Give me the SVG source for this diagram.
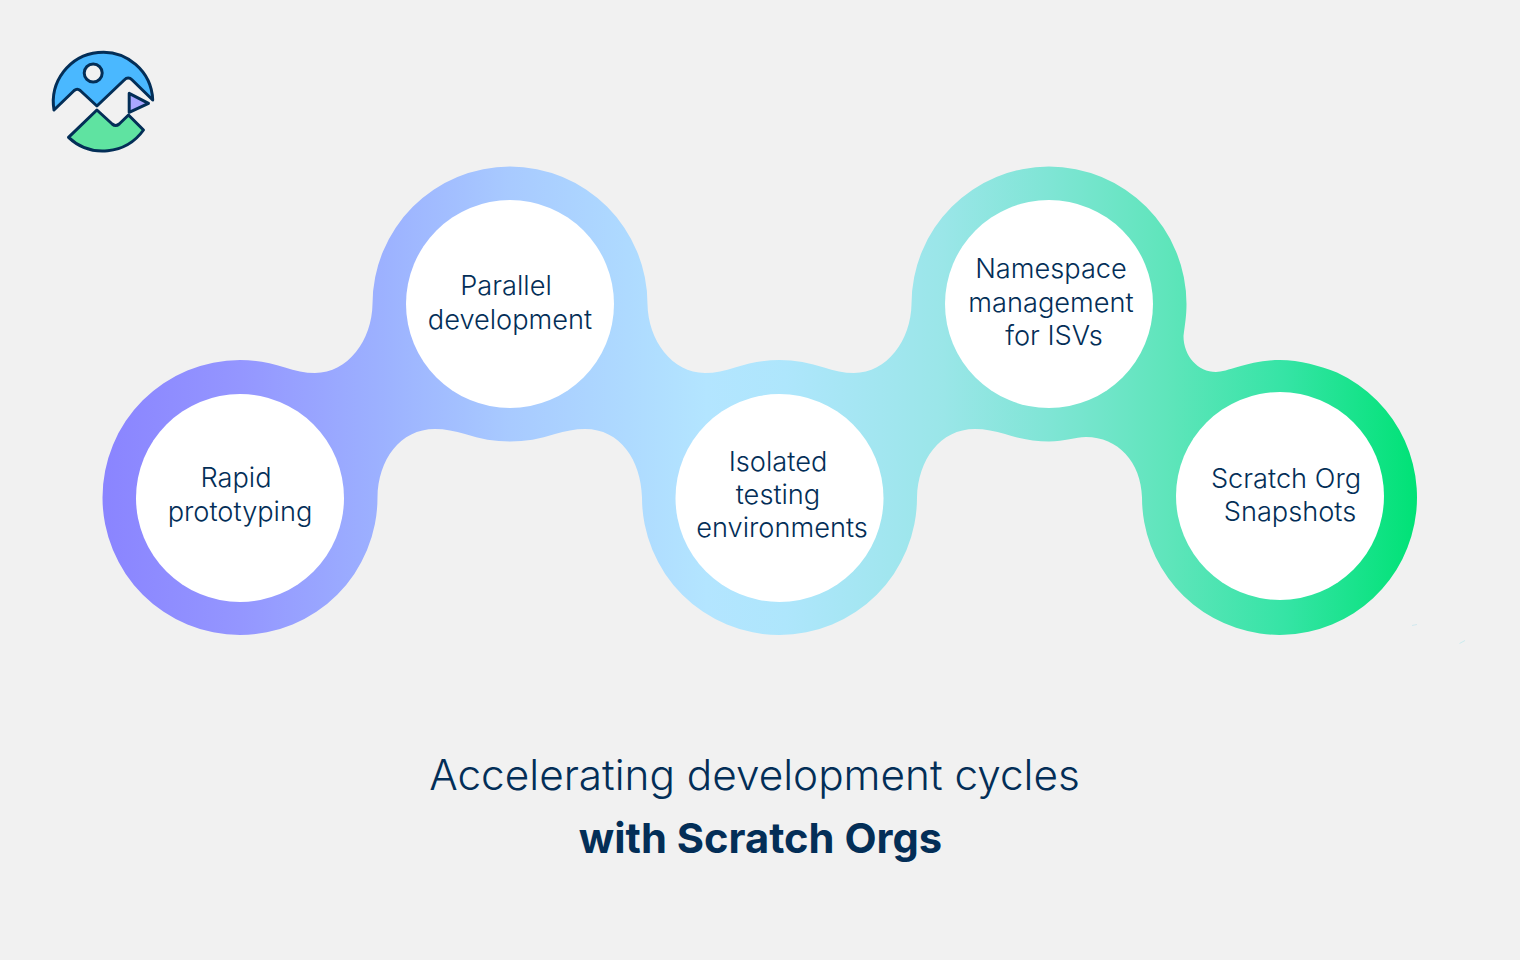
<svg xmlns="http://www.w3.org/2000/svg" width="1520" height="960" viewBox="0 0 1520 960">
<defs>
<linearGradient id="band" gradientUnits="userSpaceOnUse" x1="102" y1="0" x2="1417" y2="0">
<stop offset="0" stop-color="#8a84ff"/>
<stop offset="0.105" stop-color="#9496ff"/>
<stop offset="0.22" stop-color="#9db3ff"/>
<stop offset="0.31" stop-color="#a8caff"/>
<stop offset="0.40" stop-color="#aedaff"/>
<stop offset="0.46" stop-color="#b3e5ff"/>
<stop offset="0.52" stop-color="#aee6fc"/>
<stop offset="0.64" stop-color="#9ae6e8"/>
<stop offset="0.72" stop-color="#7fe5d5"/>
<stop offset="0.81" stop-color="#5fe5bb"/>
<stop offset="0.90" stop-color="#35e4a5"/>
<stop offset="1" stop-color="#00e276"/>
</linearGradient>
<style>
.t{font-family:"Inter","Liberation Sans",sans-serif;font-weight:300;font-size:27.2px;fill:#032e57;text-anchor:middle}
.h{font-family:"Inter","Liberation Sans",sans-serif;fill:#032e57;text-anchor:middle}
.c{fill:#fff}
.l{stroke:#032e57;stroke-width:3;stroke-linejoin:round}
</style>
</defs>
<rect width="1520" height="960" fill="#f1f1f1"/>
<g id="logo" transform="translate(0.200 0)">
<path class="l" fill="#4ab8ff" d="M53.800 110 A49.700 49.700 0 1 1 152.500 100 L132 80 Q128 76 124 80 L96.700 106 L80 90.500 Q77 88 74 90.500 Z"/>
<circle class="l" fill="#f1f1f1" cx="93" cy="73" r="9"/>
<path class="l" fill="#5fe3a1" d="M96.700 110 L112 124 Q115.500 127 119 124 L128.300 115 L143.300 130 A50 50 0 0 1 68.300 137.300 Z"/>
<path class="l" fill="#a9a6ff" d="M129 93.300 L148.300 103.300 L129 112.300 Z"/>
</g>
<g id="connectors">
<path fill="url(#band)" d="M102.500 497.500 A137.500 137.500 0 0 1 240 360 C256 360 270 363 285 367.500 C295 371 305 373 315 373 C348 373 372 340 372.500 304 A137.500 137.500 0 0 1 647.500 304 C648 340 672 373 705 373 C715 373 725 371 735 367.500 C749 363 764 360 779.500 360 C795 360 810 363 824 367.500 C834 371 844 373 854 373 C887 373 911 340 911.500 304 A137.500 137.500 0 0 1 1186.500 304 C1186.500 316 1185 324 1183.500 336 C1183.500 356 1198 372 1216 372 C1228 372 1250 360 1280 360 C1300 360 1320 366 1337 372.500 A137.500 137.500 0 1 1 1142 497.500 C1141 462 1118 437 1086 437 C1075 437 1065 441.500 1049 441.500 C1035 441.500 1020 439 1005 434 C995 431 985 429 975 429 C940 429 918 460 917 497.500 A137.500 137.500 0 0 1 642 497.500 C641 460 620 429 585 429 C575 429 565 431 555 434 C540 439 525 441.500 510 441.500 C495 441.500 480 439 465 434 C455 431 445 429 435 429 C400 429 378 460 377.500 497.500 A137.500 137.500 0 0 1 102.500 497.500 Z"/>
<path d="M1412 625.500 L1417 624.500" stroke="#c8e6ee" stroke-width="0.8" fill="none"/>
<path d="M1459.500 643.500 L1465 640.500" stroke="#c0e8ee" stroke-width="0.8" fill="none"/>
</g>
<g id="node1"><circle class="c" cx="240" cy="498" r="104"/><text class="t" x="236" y="487">Rapid</text><text class="t" x="240" y="521">prototyping</text></g>
<g id="node2"><circle class="c" cx="510" cy="304" r="104"/><text class="t" x="506" y="295">Parallel</text><text class="t" x="510" y="329">development</text></g>
<g id="node3"><circle class="c" cx="779.500" cy="498" r="104"/><text class="t" x="778" y="471">Isolated</text><text class="t" x="778" y="504">testing</text><text class="t" x="782" y="537">environments</text></g>
<g id="node4"><circle class="c" cx="1049" cy="304" r="104"/><text class="t" x="1051" y="278">Namespace</text><text class="t" x="1051" y="312">management</text><text class="t" x="1054" y="345">for ISVs</text></g>
<g id="node5"><circle class="c" cx="1280" cy="496" r="104"/><text class="t" x="1286" y="488">Scratch Org</text><text class="t" x="1290" y="521">Snapshots</text></g>
<g id="title"><text class="h" x="754.500" y="789.500" font-size="42.300" font-weight="300">Accelerating development cycles</text><text class="h" x="760.500" y="853" font-size="41.700" font-weight="700">with Scratch Orgs</text></g>
</svg>
